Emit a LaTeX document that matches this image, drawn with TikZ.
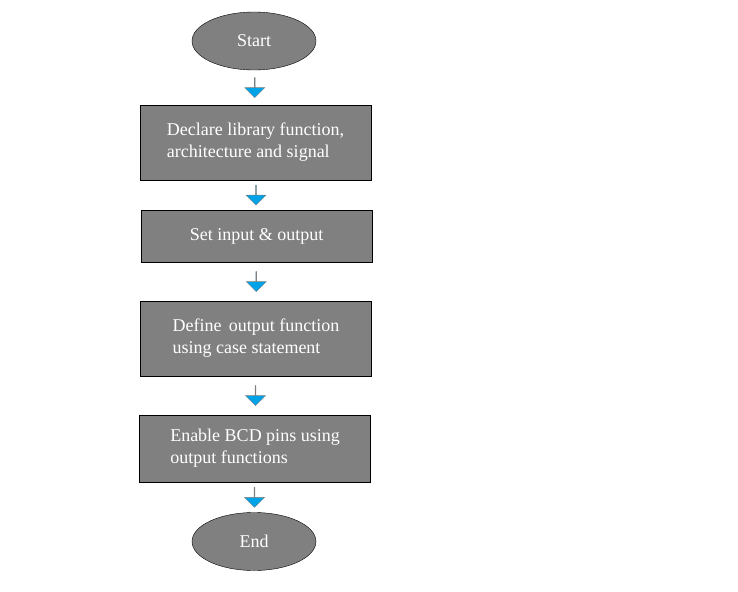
\documentclass[tikz,border=0pt]{standalone}
\usepackage{fontspec}
\setmainfont{Liberation Serif}
\usetikzlibrary{positioning, calc, shapes.geometric, shapes.arrows}

\tikzset{
  flowbox/.style={draw=black, fill=gray!100!white, fill=black!50, text=white, minimum width=231pt, align=left, font=\fontsize{18}{22}\selectfont},
  term/.style={draw=black, ellipse, fill=black!50, text=white, minimum width=124pt, minimum height=58pt, font=\fontsize{18}{22}\selectfont},
  downarrow/.style={single arrow, draw=gray, fill=cyan!80!blue!90!white, fill={rgb,255:red,0;green,162;blue,232}, shape border rotate=270, minimum height=20pt, minimum width=20pt, single arrow head extend=5pt, inner sep=0pt, single arrow tip angle=90}
}

\begin{document}
\begin{tikzpicture}[x=1pt, y=-1pt]
\useasboundingbox (0,0) rectangle (738,591);
\node[term] (start) at (254,41) {Start};
\node[flowbox, minimum height=75pt] (decl) at (255.5,142.5) {Declare library function,\\architecture and signal};
\node[flowbox, minimum height=52pt, align=center] (setio) at (256.5,236) {Set input \& output};
\node[flowbox, minimum height=75pt] (defn) at (256,338.5) {Define\, output function\\using case statement};
\node[flowbox, minimum height=67pt] (enable) at (255,448.5) {Enable BCD pins using\\output functions};
\node[term] (finish) at (254,541.5) {End};

% block arrows between the steps
\foreach \a/\b in {start/decl, decl/setio, setio/defn, defn/enable, enable/finish}
  \node[downarrow] at ($(\a.south)!0.5!(\b.north)$) {};
\end{tikzpicture}
\end{document}
